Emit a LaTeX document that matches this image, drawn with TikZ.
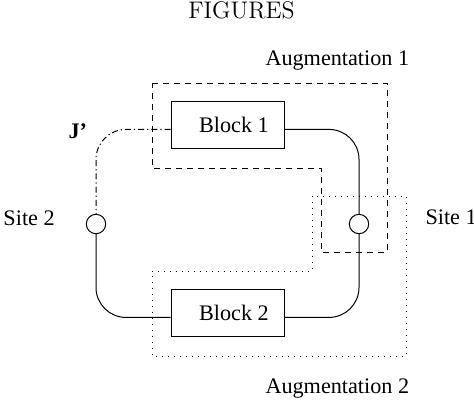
\documentclass[tikz,border=0pt]{standalone}
\usepackage{fontspec}
\newfontfamily\timesfont{Liberation Serif}
\usepackage{tikz}
\usetikzlibrary{calc}

\begin{document}
\begin{tikzpicture}[x=0.5pt, y=-0.5pt, line width=0.5pt,
block/.style={draw, rectangle, minimum width=56.5pt, minimum height=23.5pt, inner sep=0pt, font=\timesfont\fontsize{11.1}{13}\selectfont},
site/.style={draw, circle, minimum size=9.7pt, inner sep=0pt},
lbl/.style={inner sep=0pt, anchor=base west, font=\timesfont\fontsize{11.1}{13}\selectfont},
wire/.style={rounded corners=15pt},
jwire/.style={wire, dash pattern=on 3pt off 1.5pt on 0.6pt off 1.5pt},
augone/.style={dash pattern=on 3pt off 2.5pt},
augtwo/.style={dash pattern=on 0.7pt off 2.3pt}]
\useasboundingbox (0,0) rectangle (474,409);
% page header
\node[inner sep=0pt, anchor=base, font=\fontsize{12}{14}\selectfont] (head) at (241.5,18.5) {FIGURES};
% blocks and sites
\node[block] (b1) at (227.5,125) {\hspace{6.5pt}Block 1};
\node[block] (b2) at (227.5,313) {\hspace{6.5pt}Block 2};
\node[site] (s1) at (359,224) {};
\node[site] (s2) at (96,224) {};
\node[lbl] (s1l) at (425,224) {Site 1};
\node[lbl] (s2l) at (3,225) {Site 2};
\node[lbl, font=\timesfont\bfseries\fontsize{11.1}{13}\selectfont] (jp) at (68,138) {J’};
% connections
\draw[wire] ([yshift=-2.2pt]b1.east) -| (s1.north);
\draw[wire] ([yshift=-2.2pt]b2.east) -| (s1.south);
\draw[wire] (s2.south) |- ([yshift=-2.2pt]b2.west);
\draw[jwire] ([yshift=-2.2pt]b1.west) -| (s2.north);
% augmentations
\draw[augone] (152,83) -- (387,83) -- (387,252) -- (321,252) -- (321,168) -- (152,168) -- cycle;
\draw[augtwo] (152,271) -- (312,271) -- (312,196) -- (406,196) -- (406,356) -- (152,356) -- cycle;
\node[lbl] (a1) at (265,65) {Augmentation 1};
\node[lbl] (a2) at (265,393) {Augmentation 2};
\end{tikzpicture}
\end{document}
